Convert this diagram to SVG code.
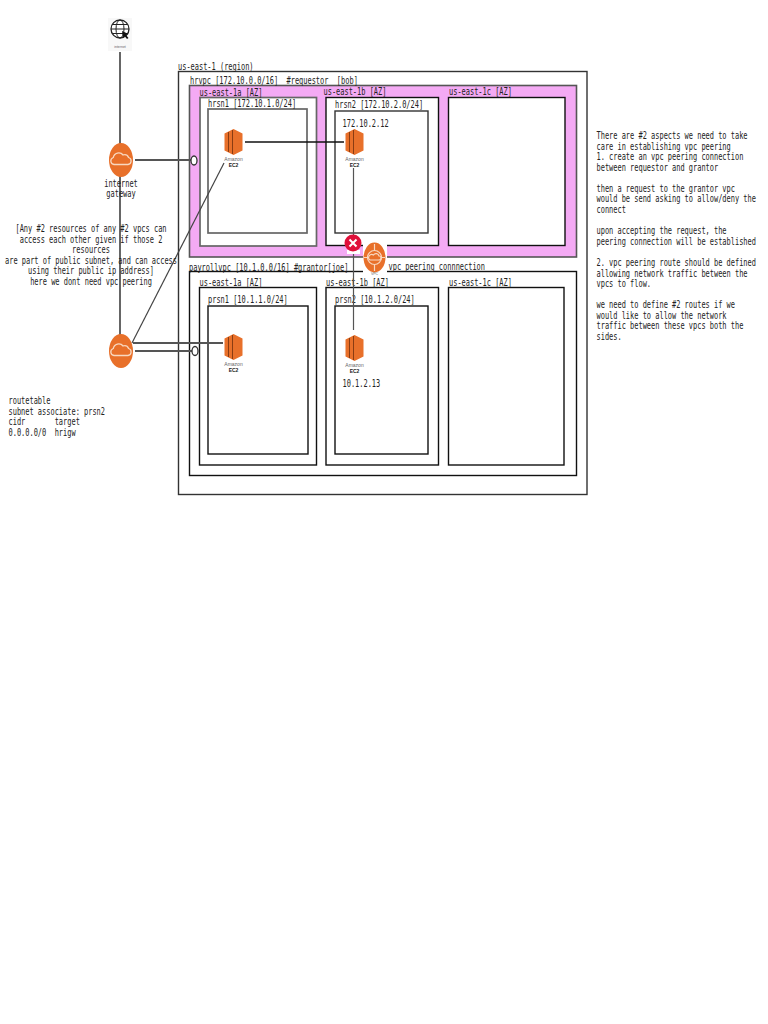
<svg xmlns="http://www.w3.org/2000/svg" width="768" height="1024" viewBox="0 0 768 1024">
<style>
text{font-family:"DejaVu Sans Mono","Liberation Mono",monospace;font-size:10px;fill:#222;white-space:pre}
.c{text-anchor:middle}
.box{fill:#fff;stroke:#333;stroke-width:1.4}
.k{stroke:#111}
.g{stroke:#666;stroke-width:1.7}
.line{fill:none;stroke:#555;stroke-width:1.8}
.tiny{font-family:"Liberation Sans",sans-serif;font-size:5px;fill:#666;text-anchor:middle}
.tinyb{font-family:"Liberation Sans",sans-serif;font-size:5px;fill:#222;text-anchor:middle;font-weight:bold}
</style>
<defs>
<g id="ec2">
<polygon points="0,-13 9,-8.500 9,8.500 0,13 -9,8.500 -9,-8.500" fill="#e8702a"/>
<path d="M-5,-10V10M-1,-12V12" stroke="#8a3c12" stroke-width="1" fill="none"/>
<text class="tiny" y="19">Amazon</text>
<text class="tinyb" y="25">EC2</text>
</g>
<g id="igw">
<ellipse rx="12" ry="17" fill="#e8702a"/>
<path d="M-7,4.500h14a3.600,3.600 0 0 0 .6,-7a4.500,4.500 0 0 0 -5.500,-2.500a5.500,5.500 0 0 0 -9.800,2.500a3.600,3.600 0 0 0 .7,7z" fill="none" stroke="#f8d8c0" stroke-width="1.300"/>
</g>
</defs>
<rect width="768" height="1024" fill="#fff"/>

<g id="region"><rect class="box" x="178.500" y="71.500" width="408.500" height="423"/>
<g transform="translate(178,69.500) scale(.698,1)"><text>us-east-1 (region)</text></g></g>

<g id="hrvpc"><rect x="189.500" y="85.500" width="387" height="171.500" fill="#f4aaf4" stroke="#555" stroke-width="1.600"/>
<g transform="translate(190,84) scale(.698,1)"><text>hrvpc [172.10.0.0/16]  #requestor  [bob]</text></g></g>

<g id="hr-az-a"><rect class="box g" x="200" y="97.500" width="116.500" height="148.500"/>
<g transform="translate(199.500,95.500) scale(.698,1)"><text>us-east-1a [AZ]</text></g></g>
<g id="hrsn1"><rect class="box g" x="208" y="109" width="99" height="124"/>
<g transform="translate(208,107) scale(.698,1)"><text>hrsn1 [172.10.1.0/24]</text></g></g>

<g id="hr-az-b"><rect class="box k" x="326" y="97.500" width="112.500" height="148"/>
<g transform="translate(323.500,95) scale(.698,1)"><text>us-east-1b [AZ]</text></g></g>
<g id="hrsn2"><rect class="box" x="335" y="111" width="93" height="122"/>
<g transform="translate(335,108) scale(.698,1)"><text>hrsn2 [172.10.2.0/24]</text></g>
<g transform="translate(342.500,127) scale(.698,1)"><text>172.10.2.12</text></g></g>

<g id="hr-az-c"><rect class="box k" x="448.500" y="97.500" width="116.500" height="148"/>
<g transform="translate(449,95) scale(.698,1)"><text>us-east-1c [AZ]</text></g></g>

<g id="payrollvpc"><rect class="box k" x="189.500" y="271.500" width="387" height="204"/>
<g transform="translate(189,271) scale(.698,1)"><text>payrollvpc [10.1.0.0/16] #grantor[joe]</text></g></g>
<g id="pr-az-a"><rect class="box k" x="199.500" y="287.500" width="117" height="177.500"/>
<g transform="translate(199.500,285.500) scale(.698,1)"><text>us-east-1a [AZ]</text></g></g>
<g id="prsn1"><rect class="box k" x="208" y="306" width="100" height="148"/>
<g transform="translate(208,303) scale(.698,1)"><text>prsn1 [10.1.1.0/24]</text></g></g>
<g id="pr-az-b"><rect class="box k" x="326" y="287.500" width="112.500" height="177.500"/>
<g transform="translate(326,285.500) scale(.698,1)"><text>us-east-1b [AZ]</text></g></g>
<g id="prsn2"><rect class="box k" x="335" y="306" width="93" height="148"/>
<g transform="translate(335,303) scale(.698,1)"><text>prsn2 [10.1.2.0/24]</text></g>
<g transform="translate(342.500,386.500) scale(.698,1)"><text>10.1.2.13</text></g></g>
<g id="pr-az-c"><rect class="box k" x="448.500" y="287.500" width="115.500" height="177.500"/>
<g transform="translate(449,285.500) scale(.698,1)"><text>us-east-1c [AZ]</text></g></g>

<g id="connectors">
<path class="line" d="M120,52V335"/>
<path class="line" d="M135,160H191"/>
<path d="M245,142H344" fill="none" stroke="#111" stroke-width="1.500"/>
<path d="M224,163L132,343" fill="none" stroke="#444" stroke-width="1.200"/>
<path d="M353.500,168V330" fill="none" stroke="#555" stroke-width="1.200"/>
<path class="line" d="M133,343H223"/>
<path class="line" d="M135,351H192"/>
<ellipse cx="194" cy="160.500" rx="3" ry="4.500" fill="#fff" stroke="#333" stroke-width="1.300"/>
<ellipse cx="195" cy="351" rx="3" ry="4.500" fill="#fff" stroke="#333" stroke-width="1.300"/>
</g>

<g id="internet">
<rect x="108" y="18" width="24" height="33" fill="#f8f8f8"/>
<circle cx="120" cy="29" r="9" fill="#fff" stroke="#222" stroke-width="1.300"/>
<ellipse cx="120" cy="29" rx="4" ry="9" fill="none" stroke="#222"/>
<path d="M111,29H129M112.500,24.500H127.500M112.500,33.500H127.500" stroke="#222" fill="none"/>
<path d="M122,31l6.500,3-2.500,1 2.500,3-1.500,1-2.500-3-1.500,2z" fill="#111"/>
<text class="tiny" x="120" y="48" style="font-size:3.500px">internet</text>
</g>

<g id="igw-hr"><use href="#igw" x="121" y="160"/>
<g transform="translate(121,187) scale(.698,1)"><text class="c">internet</text><text class="c" y="10.500">gateway</text></g></g>
<g id="igw-payroll"><use href="#igw" x="121" y="351"/></g>

<g id="ec2-hr1"><use href="#ec2" x="233.500" y="142"/></g>
<g id="ec2-hr2"><use href="#ec2" x="354.500" y="142"/></g>
<g id="ec2-pr1"><use href="#ec2" x="233.500" y="347"/></g>
<g id="ec2-pr2"><use href="#ec2" x="354.500" y="348"/></g>

<g id="blocked">
<rect x="347" y="250" width="13" height="4" fill="#fff"/>
<circle cx="353" cy="243" r="8.500" fill="#e0103a"/>
<path d="M349.500,239.500l7,7M356.500,239.500l-7,7" stroke="#fff" stroke-width="2" fill="none"/>
</g>

<g id="peering">
<rect x="363" y="243" width="24" height="33" fill="#fff"/>
<ellipse cx="374.500" cy="257.500" rx="11" ry="15" fill="#e8702a"/>
<circle cx="374.500" cy="257.500" r="7" fill="none" stroke="#f8d8c0" stroke-width="1.200"/>
<path d="M374.500,244v6.500M374.500,264.500v6.500M364,257.500h3.500M381.500,257.500h3.500M370,260h9a2,2 0 0 0 0,-4a3,3 0 0 0 -5.500,-1a2.500,2.500 0 0 0 -3.500,5z" stroke="#f8d8c0" stroke-width="1.200" fill="none"/>
<text class="tiny" x="374.500" y="275" style="font-size:3.500px">VPC</text>
<g transform="translate(388.500,270) scale(.698,1)"><text>vpc peering connnection</text></g>
</g>

<g id="note-public" transform="translate(91,232) scale(.698,1)">
<text class="c">[Any #2 resources of any #2 vpcs can</text>
<text class="c" y="10.600">access each other given if those 2</text>
<text class="c" y="21.200">resources</text>
<text class="c" y="31.800">are part of public subnet, and can access</text>
<text class="c" y="42.400">using their public ip address]</text>
<text class="c" y="53">here we dont need vpc peering</text>
</g>

<g id="note-routetable" transform="translate(8.500,404) scale(.698,1)">
<text>routetable</text>
<text y="10.600">subnet associate: prsn2</text>
<text y="21.200">cidr       target</text>
<text y="31.800">0.0.0.0/0  hrigw</text>
</g>

<g id="note-steps" transform="translate(596.500,139) scale(.698,1)">
<text>There are #2 aspects we need to take</text>
<text y="10.580">care in establishing vpc peering</text>
<text y="21.160">1. create an vpc peering connection</text>
<text y="31.740">between requestor and grantor</text>
<text y="52.900">then a request to the grantor vpc</text>
<text y="63.480">would be send asking to allow/deny the</text>
<text y="74.060">connect</text>
<text y="95.220">upon accepting the request, the</text>
<text y="105.800">peering connection will be established</text>
<text y="126.960">2. vpc peering route should be defined</text>
<text y="137.540">allowing network traffic between the</text>
<text y="148.120">vpcs to flow.</text>
<text y="169.280">we need to define #2 routes if we</text>
<text y="179.860">would like to allow the network</text>
<text y="190.440">traffic between these vpcs both the</text>
<text y="201.020">sides.</text>
</g>
</svg>
